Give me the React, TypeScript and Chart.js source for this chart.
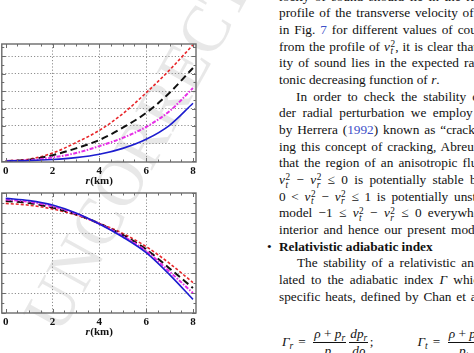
import React, { useEffect, useRef } from "react";
import { Chart, registerables } from "chart.js";
Chart.register(...registerables);

// ---------- data ----------
const radius = [0, 1, 2, 3, 4, 5, 6, 7, 8];
const xTicks = [0, 2, 4, 6, 8];

const topRed = [0, 0.1, 0.45, 1.05, 1.75, 2.7, 3.9, 5.2, 6.64];
const topBlack = [0, 0.07, 0.33, 0.72, 1.2, 1.9, 2.75, 3.9, 5.32];
const topMagenta = [0, 0.04, 0.2, 0.45, 0.85, 1.32, 1.95, 2.85, 4.17];
const topBlue = [0, 0.02, 0.08, 0.19, 0.38, 0.72, 1.24, 2.04, 3.3];
const topGrid = [1, 2, 3, 4, 5, 6];

const botRed = [5.48, 5.39, 5.2, 4.9, 4.48, 3.98, 3.32, 2.48, 1.52];
const botBlack = [5.6, 5.5, 5.27, 4.94, 4.47, 3.9, 3.18, 2.23, 1.25];
const botMagenta = [5.67, 5.56, 5.33, 4.97, 4.46, 3.85, 3.1, 2.07, 1.0];
const botBlue = [5.73, 5.62, 5.4, 5.0, 4.45, 3.8, 3.02, 1.92, 0.68];
const botGrid = [1, 2, 3, 4, 5];

const SERIF = '"Liberation Serif", "Times New Roman", serif';
const LINK = "#3d4fc8";
const GRID = "#8f8f8f";

const framePlugin = {
  id: "frame",
  afterDraw(chart: any) {
    const { ctx, chartArea: a, scales } = chart;
    const xs = scales.x;
    const ys = scales.y;
    ctx.save();
    ctx.strokeStyle = "#6b6b6b";
    ctx.lineWidth = 1;
    ctx.beginPath();
    for (let v = Math.ceil(xs.min * 2) / 2; v <= xs.max + 1e-9; v += 0.5) {
      const px = Math.round(xs.getPixelForValue(v)) + 0.5;
      const len = Math.abs(v / 2 - Math.round(v / 2)) < 1e-6 ? 4 : 2.5;
      ctx.moveTo(px, a.bottom);
      ctx.lineTo(px, a.bottom - len);
      ctx.moveTo(px, a.top);
      ctx.lineTo(px, a.top + len);
    }
    for (let v = Math.ceil(ys.min * 2) / 2; v <= ys.max + 1e-9; v += 0.5) {
      const py = Math.round(ys.getPixelForValue(v)) + 0.5;
      const len = Math.abs(v - Math.round(v)) < 1e-6 ? 4 : 2.5;
      ctx.moveTo(a.left, py);
      ctx.lineTo(a.left + len, py);
      ctx.moveTo(a.right, py);
      ctx.lineTo(a.right - len, py);
    }
    ctx.stroke();
    ctx.lineWidth = 1.4;
    ctx.strokeStyle = "#6b6b6b";
    ctx.strokeRect(a.left, a.top, a.right - a.left, a.bottom - a.top);
    // axis title r(km)
    ctx.fillStyle = "#111";
    ctx.textBaseline = "middle";
    const f1 = `italic bold 11px ${SERIF}`;
    const f2 = `bold 11px ${SERIF}`;
    ctx.font = f1;
    const w1 = ctx.measureText("r").width;
    ctx.font = f2;
    const w2 = ctx.measureText("(km)").width;
    const cx = (a.left + a.right) / 2;
    const ty = a.bottom + 19;
    const sx = cx - (w1 + w2) / 2;
    ctx.font = f1;
    ctx.fillText("r", sx, ty);
    ctx.font = f2;
    ctx.fillText("(km)", sx + w1 + 0.5, ty);
    ctx.restore();
  },
};

function makeConfig(
  series: { data: number[]; color: string; dash: number[]; width: number }[],
  yMin: number,
  yMax: number,
  yGrid: number[],
  padTop: number
) {
  return {
    type: "line",
    data: {
      datasets: series.map((s) => ({
        data: radius.map((r, i) => ({ x: r, y: s.data[i] })),
        borderColor: s.color,
        borderDash: s.dash,
        borderWidth: s.width,
        pointRadius: 0,
        fill: false,
        cubicInterpolationMode: "monotone",
      })),
    },
    options: {
      animation: false,
      responsive: false,
      maintainAspectRatio: false,
      devicePixelRatio: 1,
      layout: { padding: { left: 1, right: 4, top: padTop, bottom: 0 } },
      plugins: { legend: { display: false }, tooltip: { enabled: false } },
      scales: {
        x: {
          type: "linear",
          min: -0.17,
          max: 8.13,
          afterBuildTicks: (s: any) => {
            s.ticks = xTicks.map((v) => ({ value: v }));
          },
          afterFit: (s: any) => {
            s.height = 28;
          },
          grid: {
            color: (c: any) =>
              c.tick && (c.tick.value === 0 || c.tick.value === 8) ? "rgba(0,0,0,0)" : GRID,
            lineWidth: 1,
            drawTicks: false,
          },
          border: { display: false, dash: [1.2, 2] },
          ticks: {
            padding: 3,
            color: "#111",
            maxRotation: 0,
            autoSkip: false,
            font: { family: SERIF, weight: "bold", size: 11 },
          },
        },
        y: {
          type: "linear",
          min: yMin,
          max: yMax,
          afterBuildTicks: (s: any) => {
            s.ticks = yGrid.map((v) => ({ value: v }));
          },
          afterFit: (s: any) => {
            s.width = 0;
          },
          grid: { color: GRID, lineWidth: 1, drawTicks: false },
          border: { display: false, dash: [1.2, 2] },
          ticks: { display: false },
        },
      },
    },
    plugins: [framePlugin],
  };
}

function Panel(props: { top: number; height: number; cfg: any }) {
  const ref = useRef<HTMLCanvasElement | null>(null);
  useEffect(() => {
    if (!ref.current) return;
    const ch = new Chart(ref.current, props.cfg);
    return () => ch.destroy();
  }, []);
  return (
    <canvas
      ref={ref}
      width={200}
      height={props.height}
      style={{ position: "absolute", left: 0, top: props.top, width: 200, height: props.height }}
    />
  );
}

const V = ({ s }: { s: string }) => (
  <span>
    <i>v</i>
    <span
      style={{
        display: "inline-block",
        verticalAlign: "-0.38em",
        lineHeight: "0.78em",
        fontSize: "0.7em",
        textAlign: "left",
        marginLeft: 0.5,
      }}
    >
      <span style={{ display: "block" }}>2</span>
      <i style={{ display: "block" }}>{s}</i>
    </span>
  </span>
);

const Sub = ({ children }: { children: any }) => (
  <i style={{ fontSize: "0.72em", verticalAlign: "-0.3em", lineHeight: 0 }}>{children}</i>
);

const Frac = ({ num, den }: { num: any; den: any }) => (
  <span style={{ display: "inline-flex", flexDirection: "column", alignItems: "center", margin: "0 1.5px" }}>
    <span style={{ lineHeight: "16px", padding: "0 1px" }}>{num}</span>
    <span style={{ lineHeight: "16px", borderTop: "1px solid #111", alignSelf: "stretch", textAlign: "center" }}>
      {den}
    </span>
  </span>
);

export default function App() {
  const topCfg = makeConfig(
    [
      { data: topBlue, color: "#1c1ccf", dash: [], width: 1.6 },
      { data: topMagenta, color: "#e62ee6", dash: [4, 1.5, 1.5, 1.5], width: 2 },
      { data: topBlack, color: "#111111", dash: [7, 4], width: 2 },
      { data: topRed, color: "#e8262a", dash: [3, 2], width: 1.6 },
    ],
    -0.06,
    6.69,
    topGrid,
    14
  );
  const botCfg = makeConfig(
    [
      { data: botBlue, color: "#1c1ccf", dash: [], width: 1.6 },
      { data: botMagenta, color: "#e62ee6", dash: [4, 1.5, 1.5, 1.5], width: 2 },
      { data: botBlack, color: "#111111", dash: [7, 4], width: 2 },
      { data: botRed, color: "#e8262a", dash: [3, 2], width: 1.6 },
    ],
    0,
    6,
    botGrid,
    13
  );

  const lineStyle = (i: number, indent = 0, ws = 2.2): any => ({
    position: "absolute",
    left: 279 + indent,
    top: -11.5 + i * 16.68,
    whiteSpace: "nowrap",
    lineHeight: "16.7px",
    wordSpacing: ws,
  });

  return (
    <div
      style={{
        position: "fixed",
        left: 0,
        top: 0,
        width: 474,
        height: 353,
        overflow: "hidden",
        background: "#fff",
        fontFamily: SERIF,
        fontSize: 13.3,
        color: "#111",
      }}
    >
      <div
        style={{
          position: "absolute",
          left: 60,
          top: 336,
          height: 0,
          transform: "rotate(-61deg)",
          transformOrigin: "0 0",
        }}
      >
        <span
          style={{
            position: "absolute",
            left: 0,
            top: -55.3,
            fontSize: 66,
            lineHeight: 1,
            whiteSpace: "nowrap",
            color: "rgba(150,150,150,0.22)",
            fontFamily: SERIF,
          }}
        >
          UNCORRECTED PROOF
        </span>
      </div>

      <Panel top={30} height={160} cfg={topCfg} />
      <Panel top={180} height={161} cfg={botCfg} />

      <div style={lineStyle(0)}>locity of sound should lie in the range [0, 1].</div>
      <div style={lineStyle(1, 0, 1.5)}>profile of the transverse velocity of sound</div>
      <div style={lineStyle(2, 0, 1.6)}>
        in Fig. <span style={{ color: LINK }}>7</span> for different values of coupling
      </div>
      <div style={lineStyle(3, 0, 0.8)}>
        from the profile of <V s="t" />, it is clear that the
      </div>
      <div style={lineStyle(4, 0, 1.8)}>ity of sound lies in the expected range</div>
      <div style={lineStyle(5, 0, 0)}>
        tonic decreasing function of <i>r</i>.
      </div>
      <div style={lineStyle(6, 17, 2.8)}>In order to check the stability of</div>
      <div style={lineStyle(7, 0, 3.2)}>der radial perturbation we employ the</div>
      <div style={lineStyle(8, 0, 1.6)}>
        by Herrera (<span style={{ color: LINK }}>1992</span>) known as “cracking”
      </div>
      <div style={lineStyle(9, 0, 1.6)}>ing this concept of cracking, Abreu et al.</div>
      <div style={lineStyle(10, 0, 1.8)}>that the region of an anisotropic fluid</div>
      <div style={lineStyle(11, 0, 3)}>
        <V s="t" /> − <V s="r" /> ≤ 0 is potentially stable but
      </div>
      <div style={lineStyle(12, 0, 2.4)}>
        0 &lt; <V s="t" /> − <V s="r" /> ≤ 1 is potentially unstable
      </div>
      <div style={lineStyle(13, 0, 3)}>
        model −1 ≤ <V s="t" /> − <V s="r" /> ≤ 0 everywhere
      </div>
      <div style={lineStyle(14, 0, 2)}>interior and hence our present model is</div>
      <div style={lineStyle(15, -12, 0)}>
        <span style={{ display: "inline-block", width: 12 }}>•</span>
        <b>Relativistic adiabatic index</b>
      </div>
      <div style={lineStyle(16, 18, 2.2)}>The stability of a relativistic anisotropic</div>
      <div style={lineStyle(17, 0, 2.8)}>
        lated to the adiabatic index <i>Γ</i> which
      </div>
      <div style={lineStyle(18, 0, 1.5)}>specific heats, defined by Chan et al.</div>

      <div
        style={{
          position: "absolute",
          left: 282,
          top: 325,
          display: "flex",
          alignItems: "center",
          whiteSpace: "nowrap",
          height: 34,
        }}
      >
        <span>
          <i>Γ</i>
          <Sub>r</Sub>
        </span>
        <span style={{ margin: "0 6px 0 5px" }}>=</span>
        <Frac
          num={
            <span>
              <i>ρ</i> + <i>p</i>
              <Sub>r</Sub>
            </span>
          }
          den={
            <span>
              <i>p</i>
              <Sub>r</Sub>
            </span>
          }
        />
        <Frac
          num={
            <span>
              <i>dp</i>
              <Sub>r</Sub>
            </span>
          }
          den={<i>dρ</i>}
        />
        <span>;</span>
        <span style={{ display: "inline-block", width: 44 }} />
        <span>
          <i>Γ</i>
          <Sub>t</Sub>
        </span>
        <span style={{ margin: "0 6px 0 5px" }}>=</span>
        <Frac
          num={
            <span>
              <i>ρ</i> + <i>p</i>
              <Sub>t</Sub>
            </span>
          }
          den={
            <span>
              <i>p</i>
              <Sub>t</Sub>
            </span>
          }
        />
      </div>
    </div>
  );
}
